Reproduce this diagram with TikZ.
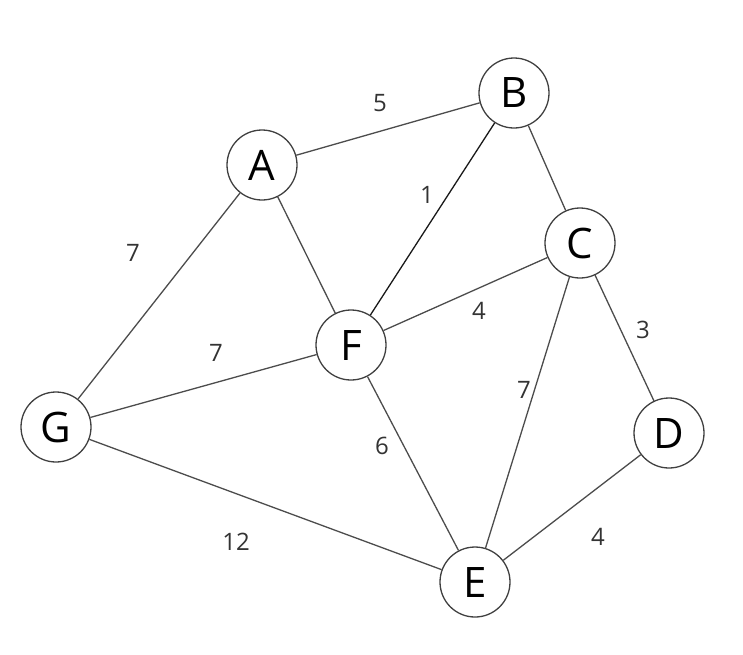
\documentclass[tikz,border=0pt]{standalone}
\usepackage{fontspec}
\setmainfont{Open Sans}
\begin{document}
\begin{tikzpicture}[x=1pt,y=-1pt,
  vert/.style={circle,draw=black!75,line width=1.3pt,fill=white,minimum size=70pt,inner sep=0pt,font=\fontsize{42}{42}\selectfont},
  edge/.style={draw=black!70,line width=1.3pt},
  wt/.style={font=\fontsize{24}{24}\selectfont,text=black!80}]
\useasboundingbox (0,0) rectangle (743,654);
\node[vert] (A) at (262,165) {A};
\node[vert] (B) at (514,93) {B};
\node[vert] (C) at (580,243) {C};
\node[vert] (D) at (669,433) {D};
\node[vert] (E) at (475,582) {E};
\node[vert] (F) at (351,345) {F};
\node[vert] (G) at (56,427) {G};
\draw[edge] (A)--(B); \draw[edge] (A)--(F); \draw[edge] (A)--(G);
\draw[edge,draw=black!90] (B)--(F); \draw[edge] (B)--(C);
\draw[edge] (C)--(F); \draw[edge] (C)--(D); \draw[edge] (C)--(E);
\draw[edge] (D)--(E); \draw[edge] (F)--(G); \draw[edge] (F)--(E); \draw[edge] (G)--(E);
\node[wt] (w1) at (380,103) {5};
\node[wt] (w2) at (427,195) {1};
\node[wt] (w3) at (133,253) {7};
\node[wt] (w4) at (479,311) {4};
\node[wt] (w5) at (643,330) {3};
\node[wt] (w6) at (216,353) {7};
\node[wt] (w7) at (524,390) {7};
\node[wt] (w8) at (382,446) {6};
\node[wt] (w9) at (236,542) {12};
\node[wt] (w10) at (598,537) {4};
\end{tikzpicture}
\end{document}
